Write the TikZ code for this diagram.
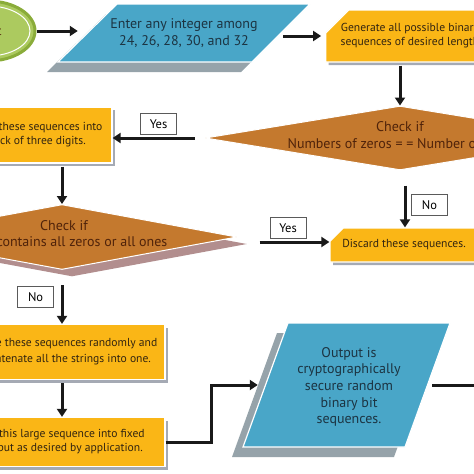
\documentclass[tikz,border=0pt]{standalone}
\usepackage{fontspec}
\setmainfont{PT Sans}
\usetikzlibrary{arrows.meta,shapes.geometric,shapes.misc,shadows}

\definecolor{inblue}{RGB}{73,166,200}
\definecolor{blueshade}{RGB}{150,163,170}
\definecolor{blueink}{RGB}{28,52,66}
\definecolor{taskyellow}{RGB}{250,182,22}
\definecolor{taskshade}{RGB}{165,170,180}
\definecolor{taskink}{RGB}{50,36,16}
\definecolor{decorange}{RGB}{196,121,46}
\definecolor{decshade}{RGB}{178,142,142}
\definecolor{decink}{RGB}{80,35,10}
\definecolor{startfill}{RGB}{172,202,95}
\definecolor{startline}{RGB}{138,172,58}
\definecolor{arrowink}{RGB}{25,25,25}
\definecolor{labelgray}{RGB}{90,90,90}

\begin{document}
\begin{tikzpicture}[
x=1pt,y=-1pt,
startnode/.style={ellipse,fill=startfill,draw=startline,line width=3pt,minimum width=94pt,minimum height=60pt,text=decink,font=\fontsize{13}{15}\selectfont},
iofill/.style={fill=inblue,draw=white,line width=1.2pt,drop shadow={shadow xshift=-11pt,shadow yshift=-10pt,fill=blueshade,opacity=1}},
iotext/.style={rectangle,inner sep=0pt,align=center,text=blueink,font=\fontsize{14}{17}\selectfont},
task/.style={rectangle,fill=taskyellow,draw=white,line width=1.2pt,inner sep=2pt,align=center,text=taskink,font=\fontsize{11.6}{14}\selectfont,drop shadow={shadow xshift=3pt,shadow yshift=-3pt,fill=taskshade,opacity=1}},
cut corner/.style 2 args={chamfered rectangle,chamfered rectangle corners=north west,chamfered rectangle xsep=#1,chamfered rectangle ysep=#2},
decision/.style={diamond,fill=decorange,draw=white,line width=1pt,inner sep=0pt},
dtext/.style={align=center,text=decink,font=\fontsize{14}{17}\selectfont},
lbl/.style={rectangle,fill=white,draw=labelgray,line width=0.8pt,inner sep=2pt,minimum width=36pt,minimum height=21pt,font=\fontsize{12.5}{14}\selectfont},
arr/.style={-{Triangle[length=8pt,width=10pt]},line width=3pt,draw=arrowink}
]
\useasboundingbox (0,0) rectangle (474,474);
\clip (0,0) rectangle (474,474);

% top row
\node[startnode] (start) at (-12,31) {Start};
\draw[white,line width=1pt] (start.center) ellipse [x radius=42pt,y radius=25pt];
\path[iofill] (58,62) -- (252,62) -- (310,4) -- (117,4) -- cycle;
\node[iotext,minimum width=194pt] (input) at (184,33) {Enter any integer among\\24, 26, 28, 30, and 32};
\node[task,cut corner={13pt}{10pt},minimum width=152pt,minimum height=52pt] (gen) at (410,36) {Generate all possible binary\\sequences of desired length};

% checks
\node[decision,minimum width=390pt,minimum height=64pt] (check1) at (400,138) {};
\node[dtext] (check1-text) at (400,135) {Check if\\Numbers of zeros = = Number of ones};
\node[task,minimum width=154pt,minimum height=56pt] (block) at (35,135) {Break these sequences into\\block of three digits.};
\node[decision,minimum width=350pt,minimum height=65pt,drop shadow={shadow xshift=10pt,shadow yshift=-7pt,fill=decshade,opacity=1}] (check2) at (62,237) {};
\node[dtext,font=\fontsize{14}{16}\selectfont] (check2-text) at (64,234) {Check if\\block contains all zeros or all ones};
\node[task,cut corner={22pt}{6pt},minimum width=148pt,minimum height=34pt] (discard) at (404,245) {Discard these sequences.};

% bottom part
\node[task,minimum width=206pt,minimum height=55pt,font=\fontsize{11.6}{16}\selectfont] (shuffle) at (62,352) {Shuffle these sequences randomly and\\concatenate all the strings into one.};
\node[task,minimum width=206pt,minimum height=49pt] (cut) at (62,442) {Cut this large sequence into fixed\\output as desired by application.};
\path[iofill] (243,447) -- (405,447) -- (450,323) -- (288,323) -- cycle;
\node[iotext,minimum width=162pt,font=\fontsize{14}{16.7}\selectfont] (output) at (349,387) {Output is\\cryptographically\\secure random\\binary bit\\sequences.};
\coordinate (offpage) at (500,385);

\draw[arr,shorten >=9pt] (start.east) -- (start.east -| input.west);
\draw[arr,shorten <=2pt,shorten >=4pt] (input.east |- gen.west) -- (gen.west);
\draw[arr,shorten <=3pt] (check1.north |- gen.south) -- (check1.north);
\draw[arr,shorten <=10pt] (check1.west) -- node[lbl,above=3pt] (yes1) {Yes} (check1.west -| block.east);
\draw[arr,shorten <=15pt] ([xshift=5pt]check1.south) -- node[lbl,right=6pt,pos=0.6] (no1) {No} ([xshift=5pt]check1.south |- discard.north);
\draw[arr,shorten <=3pt] (block.south -| check2.north) -- (check2.north);
\draw[arr,shorten <=22pt] ([yshift=-5pt]check2.east) -- node[lbl,above=3pt,pos=0.55] (yes2) {Yes} ([yshift=-5pt]check2.east -| discard.west);
\draw[arr,shorten <=15pt] (check2.south) -- node[lbl,left=8pt] (no2) {No} (check2.south |- shuffle.north);
\draw[arr,shorten <=3pt] (shuffle) -- (cut);
\draw[arr,shorten >=10pt] (cut.east) -- ++(46,0) |- (output.west |- offpage);
\draw[arr,shorten <=2pt] (output.east |- offpage) -- (offpage);
\end{tikzpicture}
\end{document}
